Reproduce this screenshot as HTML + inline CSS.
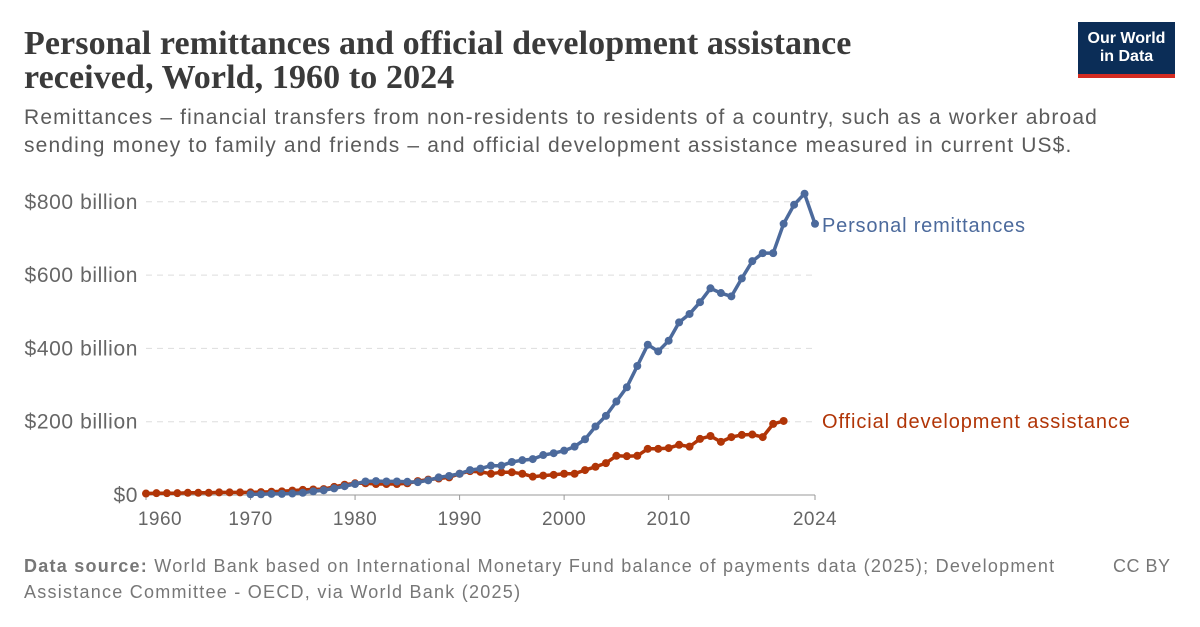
<!DOCTYPE html>
<html><head><meta charset="utf-8"><style>
body{margin:0;background:#fff;width:1200px;height:627px;overflow:hidden;font-family:"Liberation Sans",sans-serif}
.title{position:absolute;left:24px;top:27px;font-family:"Liberation Serif",serif;font-size:34px;line-height:34px;color:#3a3a3a;font-weight:bold;letter-spacing:0.1px}
.sub{position:absolute;left:24px;top:104px;font-size:21px;line-height:28px;color:#5b5b5b;letter-spacing:1.15px}
.logo{position:absolute;left:1078px;top:22px;width:97px;height:56px;background:#0b2d57;color:#fff;font-size:16px;font-weight:bold;line-height:18px;text-align:center;padding-top:8px;box-sizing:border-box;border-bottom:4px solid #d42b21}
.foot{position:absolute;left:24px;top:553px;font-size:18px;line-height:26px;color:#777;letter-spacing:1.25px}
</style></head><body>
<div class="title">Personal remittances and official development assistance<br>received, World, 1960 to 2024</div>
<div class="sub">Remittances – financial transfers from non-residents to residents of a country, such as a worker abroad<br>sending money to family and friends – and official development assistance measured in current US$.</div>
<div class="logo">Our World<br>in Data</div>
<svg id="chart" width="1200" height="627" style="position:absolute;left:0;top:0"></svg>
<div class="foot"><b>Data source:</b> World Bank based on International Monetary Fund balance of payments data (2025); Development<br>Assistance Committee - OECD, via World Bank (2025)</div>
<div class="foot" style="left:1113px;letter-spacing:0.5px">CC BY</div>
<script>
const remitYears=[];for(let y=1970;y<=2024;y++)remitYears.push(y);
const remitValues=[2,2,3,3,4,6,10,13,18,24,30,37,38,37,37,36,35,40,48,52,58,68,72,80,80,90,95,98,109,114,121,132,152,187,216,255,294,352,410,392,421,471,494,526,564,551,542,591,638,660,660,740,792,822,740];
const odaYears=[];for(let y=1960;y<=2021;y++)odaYears.push(y);
const odaValues=[4,5,5,5,6,6,6,7,7,7,7,8,9,10,12,14,15,16,22,28,32,32,30,30,30,32,38,42,45,48,58,65,63,58,62,62,58,50,53,55,58,58,68,77,87,107,106,107,126,126,128,137,132,153,161,145,158,164,165,158,194,202];
const yTicks=[0,200,400,600,800];
const yTickLabels=["$0","$200 billion","$400 billion","$600 billion","$800 billion"];
const xTicks=[1960,1970,1980,1990,2000,2010,2024];
const svg=document.getElementById('chart');const NS='http://www.w3.org/2000/svg';
const X=y=>146+(y-1960)*(669/64);const Y=v=>495-v*0.3665;
function mk(t,a){const e=document.createElementNS(NS,t);for(const k in a)e.setAttribute(k,a[k]);svg.appendChild(e);return e;}
yTicks.forEach((t,i)=>{
 if(t>0){const g=mk('line',{x1:146,x2:815,y1:Y(t),y2:Y(t),stroke:'#ddd','stroke-dasharray':'6,5'});
 
 }
 const l=mk('text',{x:138,y:Y(t)+7,'text-anchor':'end','font-size':21,fill:'#666','letter-spacing':0.6});l.textContent=yTickLabels[i];
 
 
});
const ax=mk('line',{x1:146,x2:815,y1:495,y2:495,stroke:'#999'});


xTicks.forEach(t=>{
 const tk=mk('line',{x1:X(t),x2:X(t),y1:495,y2:500,stroke:'#999'});
 
 
 const l=mk('text',{x:X(t)+(t==1960?14:0),y:525,'text-anchor':'middle','font-size':19,fill:'#666','letter-spacing':0.5});l.textContent=t;
 
 
});
function series(xs,vs,col,name){
 const n=Math.min(xs.length,vs.length);let d='';
 for(let i=0;i<n;i++)d+=(i?'L':'M')+X(xs[i]).toFixed(1)+','+Y(vs[i]).toFixed(1);
 const p=mk('path',{d:d,fill:'none',stroke:col,'stroke-width':3.5,'stroke-linejoin':'round'});
 
 
 for(let i=0;i<n;i++){const c=mk('circle',{cx:X(xs[i]),cy:Y(vs[i]),r:4,fill:col});
 
 }
 return n;
}
series(odaYears,odaValues,'#b13507','oda');
const n=series(remitYears,remitValues,'#4c6a9c','remittances');
const l1=mk('text',{x:822,y:Y(remitValues[n-1])+8,'font-size':20,fill:'#4c6a9c','letter-spacing':0.8});l1.textContent='Personal remittances';


const l2=mk('text',{x:822,y:Y(odaValues[odaValues.length-1])+7,'font-size':20,fill:'#b13507','letter-spacing':0.9});l2.textContent='Official development assistance';


</script>
</body></html>
